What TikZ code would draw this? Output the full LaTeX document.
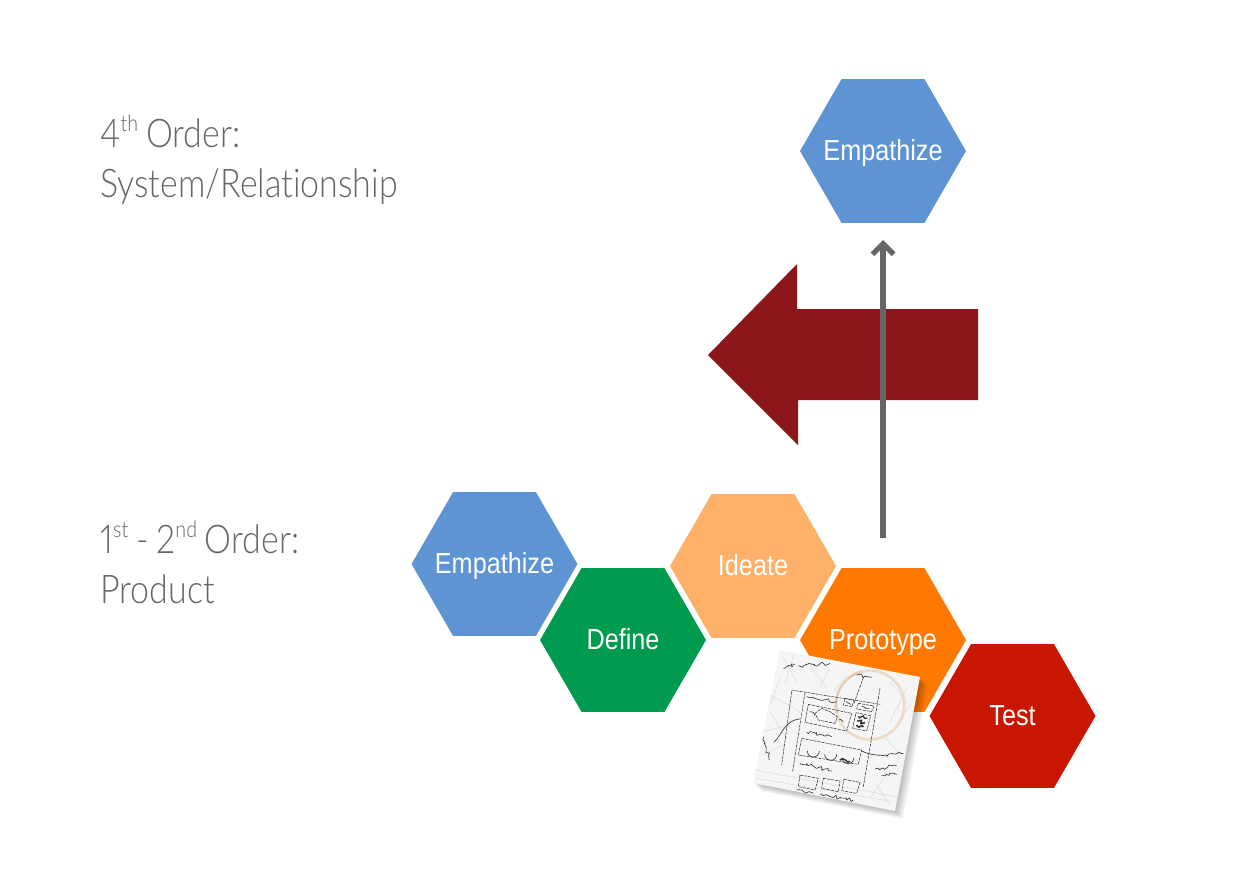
\documentclass[tikz,border=0pt]{standalone}
\usepackage{fontspec}
\usetikzlibrary{positioning,shapes,arrows.meta,decorations.pathmorphing}
\setmainfont[FakeStretch=0.87]{Liberation Sans}
\newfontfamily\thinfont[FakeStretch=0.86,Ligatures=NoCommon,Numbers=Proportional,WordSpace=0.85]{Lato Light}
\newcommand{\ordsup}[1]{\raisebox{0.42em}{\fontsize{13}{13}\selectfont #1}}
\definecolor{hexblue}{HTML}{5F94D4}
\definecolor{hexgreen}{HTML}{009B4E}
\definecolor{hexpeach}{HTML}{FFB069}
\definecolor{hexorange}{HTML}{FF7900}
\definecolor{hexred}{HTML}{C91600}
\definecolor{arrowred}{HTML}{8C171A}
\definecolor{linegrey}{HTML}{666666}
\definecolor{inkgrey}{HTML}{333333}
\definecolor{ringtan}{HTML}{EADCC8}
\tikzset{
  hexa/.style={regular polygon,regular polygon sides=6,minimum size=3.32cm,inner sep=0pt,outer sep=0pt,fill=#1},
  hextext/.style={inner sep=0pt,text=white,text height=14pt,text depth=3.2pt,font=\fontsize{16.5}{18}\selectfont},
  order/.style={anchor=base west,inner sep=0pt,align=left,text=linegrey,font=\fontsize{22.5}{28}\thinfont},
  ink/.style={draw=inkgrey,line width=0.3pt,line cap=round,line join=round,dash pattern=on 1.6pt off 0.7pt},
  scrib/.style={draw=inkgrey,line width=0.35pt,line join=round,decorate,decoration={random steps,segment length=1.4pt,amplitude=1.1pt}},
  crease/.style={draw=black!14,line width=0.3pt},
}
\begin{document}
\begin{tikzpicture}[x=0.02cm,y=-0.02cm]
\useasboundingbox (0,0) rectangle (1257,887);
%labels
\node [order] (top label) at (100,197) {4\ordsup{th} Order:\\System/Relationship};
\node [order] (low label) at (100,603) {1\ordsup{st} - 2\ordsup{nd} Order:\\Product};
%red arrow
\fill [arrowred] (708,355) -- (797,264) -- (797,309) -- (978,309) -- (978,400) -- (798,400) -- (798,445) -- cycle;
%hexagons
\node [hexa=hexblue,label={[hextext]center:Empathize}] (empathize top) at (883,151) {};
\node [hexa=hexblue,label={[hextext]center:Empathize}] (empathize) at (494.5,564) {};
\node [hexa=hexgreen,label={[hextext]center:Define}] (define) at (623,640) {};
\node [hexa=hexpeach,label={[hextext]center:Ideate}] (ideate) at (753,566) {};
\node [hexa=hexorange,label={[hextext]center:Prototype}] (prototype) at (883,640) {};
\node [hexa=hexred,label={[hextext]center:Test}] (test) at (1012.5,716) {};
%grey arrow
\coordinate (rise start) at (883,538);
\coordinate (rise end) at (883,240);
\draw [linegrey,line width=3pt,-{Straight Barb[length=6pt,width=12pt,line width=3pt]}] (rise start) -- (rise end);
%napkin shadow
\foreach \d in {1,...,8}
  \fill [black,opacity=0.035] (780+\d,650+\d) -- (920+\d,677+\d) -- (895+\d,811+\d) -- (753+\d,783+\d) -- cycle;
%napkin
\fill [white!96!black] (780,650) -- (920,677) -- (895,811) -- (753,783) -- cycle;
\begin{scope}[shift={(750,645)},x=0.00667cm,y=-0.00667cm]
%creases
\foreach \a/\b/\c/\e in {100/40/140/110,130/30/105/120,60/150/150/200,40/260/120/240,35/330/100/300,
  180/60/230/130,240/70/210/125,290/90/250/140,420/110/470/170,470/130/420/230,440/240/480/180,
  400/270/450/330,20/400/430/470,15/375/440/455,60/200/110/280,90/100/60/180,380/420/420/480,360/460/400/400}
  \draw [crease] (\a,\b) -- (\c,\e);
%ring
\draw [ringtan,line width=1.5pt] (360,180) circle (103);
\draw [ringtan!85!brown,line width=1.2pt] (262,205) arc (165:255:103);
%page frame
\draw [ink] (125,135) -- (390,178);
\draw [ink] (165,143) -- (128,378);
\draw [ink] (125,140) -- (95,360);
\draw [ink] (390,130) -- (340,425);
\draw [ink] (340,98) -- (312,175);
%hero
\draw [ink] (175,178) -- (305,205) -- (290,258) -- (165,232) -- cycle;
\draw [ink] (195,205) -- (215,190) -- (240,200) -- (262,215) -- (255,235) -- (205,225) -- cycle;
\draw [scrib] (180,200) -- (195,212);
\draw [scrib] (268,222) -- (280,230);
%side boxes
\draw [ink] (285,160) -- (312,165) -- (306,185) -- (280,180) -- cycle;
\draw [scrib] (290,168) -- (303,178);
\draw [ink] (325,175) -- (372,183) -- (365,200) -- (320,192) -- cycle;
\draw [scrib] (335,184) -- (358,190);
\draw [ink] (318,203) -- (362,212) -- (350,258) -- (308,250) -- cycle;
\draw [scrib,line width=0.7pt] (326,214) -- (352,220);
\draw [scrib,line width=0.9pt] (322,228) -- (345,233);
\draw [scrib,line width=0.9pt] (319,241) -- (340,246);
%headings
\draw [scrib] (170,155) -- (260,170);
\draw [scrib] (100,70) -- (135,58);
\draw [scrib] (145,62) -- (240,55);
\draw [scrib] (170,262) -- (245,275);
\draw [scrib] (150,355) -- (245,378);
\draw [scrib] (320,90) -- (365,97);
%panel
\draw [ink] (155,280) -- (335,315) -- (325,358) -- (145,330) -- cycle;
\draw [inkgrey,line width=0.35pt] (172,318) arc (180:0:18);
\draw [inkgrey,line width=0.35pt] (224,328) arc (180:0:18);
\draw [inkgrey,line width=0.35pt] (276,338) arc (180:0:18);
\draw [scrib,line width=0.8pt] (270,345) -- (300,350);
%lower boxes
\draw [ink] (150,390) -- (205,400) -- (195,435) -- (145,425) -- cycle;
\draw [ink] (220,400) -- (270,408) -- (265,440) -- (215,430) -- cycle;
\draw [ink] (282,403) -- (330,412) -- (320,445) -- (275,437) -- cycle;
\draw [scrib] (140,435) -- (190,445);
\draw [scrib] (210,448) -- (310,465);
%notes
\draw [inkgrey,line width=0.35pt] (150,222) .. controls (105,225) and (95,270) .. (72,292);
\draw [scrib] (42,275) -- (58,345);
\draw [inkgrey,line width=0.35pt] (335,318) .. controls (350,325) and (365,330) .. (385,330);
\draw [scrib] (385,332) -- (460,325);
\draw [scrib] (375,372) -- (440,362);
\draw [scrib] (395,392) -- (440,388);
\end{scope}
\end{tikzpicture}
\end{document}
